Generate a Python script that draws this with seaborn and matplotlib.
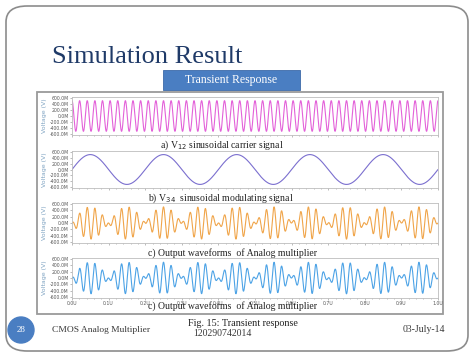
import numpy as np
import pandas as pd
import seaborn as sns
import matplotlib.pyplot as plt
from matplotlib.patches import FancyBboxPatch, Rectangle
from matplotlib.ticker import FuncFormatter, MultipleLocator

sns.set_style("white")
plt.rcParams['font.family'] = ['Liberation Serif', 'DejaVu Serif']

# waveform settings (time in us, voltage in mV)
t_start, t_end = 0.0, 1.0
carrier_freq = 48.0      # cycles per us
carrier_amp = 500.0
mod_freq = 5.0
mod_amp = 500.0
yticks = [600, 400, 200, 0, -200, -400, -600]
xticks = [0.0, 0.1, 0.2, 0.3, 0.4, 0.5, 0.6, 0.7, 0.8, 0.9, 1.0]
captions = ["a) V$_{12}$ sinusoidal carrier signal",
            "b) V$_{34}$  sinusoidal modulating signal",
            "c) Output waveforms  of Analog multiplier",
            "c) Output waveforms  of Analog multiplier"]
colors = ["#E362D9", "#7B6FCF", "#F0A54A", "#4DA3E6"]

t = np.linspace(t_start, t_end, 3000)
v12 = carrier_amp * np.sin(2 * np.pi * carrier_freq * t + np.pi / 2)
v34 = mod_amp * np.sin(2 * np.pi * mod_freq * t)
vout = v12 * v34 / mod_amp

df = pd.DataFrame({"t": np.tile(t, 4),
                   "v": np.concatenate([v12, v34, vout, vout * 0.98]),
                   "panel": np.repeat(["a", "b", "c", "d"], len(t))})

W, H = 474, 355
fig = plt.figure(figsize=(W / 100, H / 100), dpi=100)
fig.patch.set_facecolor("white")

def fx(x):
    return x / W

def fy(y):
    return 1 - y / H

# slide border
fig.patches.append(FancyBboxPatch((fx(6), fy(351)), fx(462), 345 / H,
                                  boxstyle="round,pad=0,rounding_size=0.045",
                                  transform=fig.transFigure, fill=False,
                                  edgecolor="#8C8C8C", linewidth=1.2))

fig.text(fx(52), fy(63), "Simulation Result", fontsize=19, color="#1F3A68",
         ha="left", va="baseline")

# chart frame
fig.patches.append(Rectangle((fx(37), fy(314)), fx(406), 222 / H,
                             transform=fig.transFigure, facecolor="white",
                             edgecolor="#9A9A9A", linewidth=1.3, zorder=-1))

# header box
fig.patches.append(Rectangle((fx(163), fy(90)), fx(137), 20 / H,
                             transform=fig.transFigure, facecolor="#4A7EC2",
                             edgecolor="#3C6AA8", linewidth=0.6))
fig.text(fx(231), fy(80), "Transient Response", fontsize=8.5, color="white",
         ha="center", va="center")

panels = [(97, 135), (151, 188), (203, 243), (258, 298)]
cap_pos = [(222, 145), (221, 198), (233, 253), (232, 306)]
left, right = 72, 438

for i, key in enumerate(["a", "b", "c", "d"]):
    top, bot = panels[i]
    ax = fig.add_axes([fx(left), fy(bot), fx(right - left), (bot - top) / H])
    ax.set_zorder(2)
    sns.lineplot(data=df[df.panel == key], x="t", y="v", ax=ax,
                 color=colors[i], linewidth=0.8)
    ax.set_xlim(t_start, t_end)
    ax.set_ylim(-620, 620)
    ax.set_yticks(yticks)
    ax.yaxis.set_major_formatter(FuncFormatter(lambda v, p: f"{v:.1f}M"))
    ax.set_xticks(xticks)
    ax.xaxis.set_minor_locator(MultipleLocator(0.02))
    if i == 3:
        ax.xaxis.set_major_formatter(FuncFormatter(lambda v, p: f"{v:.1f}U"))
    else:
        ax.set_xticklabels([])
    ax.tick_params(axis="both", which="both", direction="out", length=1.5,
                   width=0.4, color="#888888", labelsize=3.3,
                   labelcolor="#555555", pad=1, bottom=True, left=True)
    ax.tick_params(axis="x", which="minor", length=1)
    for lab in ax.get_xticklabels() + ax.get_yticklabels():
        lab.set_family("DejaVu Sans")
    ax.set_xlabel("")
    ax.set_ylabel("Voltage (V)", fontsize=4.5, color="#7FA3C2",
                  family="DejaVu Sans", labelpad=2)
    for s in ax.spines.values():
        s.set_color("#BDBDBD")
        s.set_linewidth(0.6)
    cx, cy = cap_pos[i]
    fig.text(fx(cx), fy(cy), captions[i], fontsize=7, color="#222222",
             ha="center", va="center", zorder=5)

# footer
circ = plt.Circle((21, H - 330), 13, transform=None, color="#4A7EC2")
fig.add_artist(circ)
fig.text(fx(21), fy(330), "28", fontsize=6.5, color="white",
         ha="center", va="center")
fig.text(fx(52), fy(330), "CMOS Analog Multiplier", fontsize=6.8,
         color="#3A3A3A", ha="left", va="center")
fig.text(fx(243), fy(323), "Fig. 15: Transient response", fontsize=7.3,
         color="#222222", ha="center", va="center")
fig.text(fx(222), fy(333), "120290742014", fontsize=7,
         color="#3A3A3A", ha="center", va="center")
fig.text(fx(445), fy(330), "03-July-14", fontsize=7,
         color="#3A3A3A", ha="right", va="center")

fig.savefig("out.png", dpi=100)
